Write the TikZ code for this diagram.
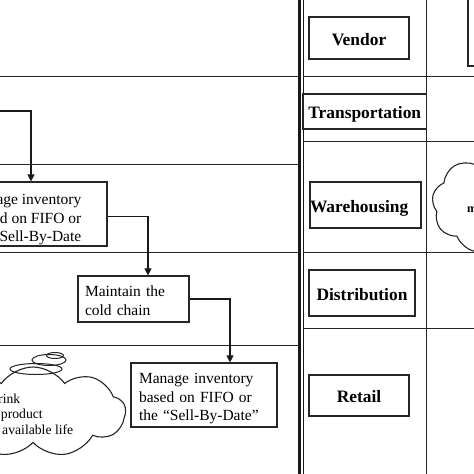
\documentclass[tikz,border=0pt]{standalone}
\usepackage{fontspec}
\setmainfont{Liberation Serif}
\usetikzlibrary{shapes.symbols,shapes.geometric,arrows.meta,calc}
\begin{document}
\begin{tikzpicture}[x=1pt,y=-1pt,
  rule/.style={line width=0.9pt, draw=black!85},
  boxline/.style={draw=black!85, line width=1.2pt},
  procbox/.style={boxline, rectangle, inner ysep=0pt, align=left, font=\fontsize{15.5}{18.5}\selectfont},
  stage/.style={boxline, rectangle, inner sep=0pt, text height=14.5pt, text depth=0pt, font=\fontsize{17.4}{20}\selectfont\bfseries},
  flow/.style={line width=1.1pt, draw=black!90, -{Triangle[length=7pt,width=7pt]}},
  thought/.style={cloud, draw=black!85, line width=1.1pt, cloud puffs=9, cloud puff arc=110, aspect=2.2, inner sep=0pt},
  bubble/.style={draw=black!85, line width=1pt},
  plain/.style={inner sep=0pt, font=\fontsize{15.5}{18.5}\selectfont},
  cloudtext/.style={inner sep=0pt, font=\fontsize{13.7}{15.5}\selectfont}
]
\useasboundingbox (0,0) rectangle (474,474);
\clip (0,0) rectangle (474,474);
\fill[white] (0,0) rectangle (474,474);

% lane rules, left part
\foreach \yy in {76,164,252,345} \draw[rule] (0,\yy) -- (298.5,\yy);
% rules, middle and right columns
\foreach \yy in {76,141,252,328} \draw[rule] (303,\yy) -- (474,\yy);
% double vertical line and column line
\draw[draw=black!90, line width=2.6pt] (299.7,0) -- (299.7,474);
\draw[draw=black!90, line width=1pt] (303,0) -- (303,474);
\draw[rule] (426.5,0) -- (426.5,474);

% stage labels
\node[stage, minimum width=100pt, minimum height=42pt] (vendor) at (359,38) {Vendor};
\node[stage, minimum width=123.5pt, minimum height=35pt] (transp) at (364.75,111.5) {Transportation};
\node[stage, text width=111pt, align=left, minimum height=46pt] (wareh) at (365.5,205) {Warehousing};
\node[stage, minimum width=106pt, minimum height=46pt] (distr) at (362,293) {Distribution};
\node[stage, minimum width=100pt, minimum height=41pt] (retail) at (359,395.5) {Retail};

% partial box, right column
\draw[boxline] (468,-5) rectangle (480,66);

% right cloud
\node[thought, minimum width=126pt, minimum height=100pt] (rcloud) at (495,204) {};
\node[inner sep=0pt, anchor=west, font=\fontsize{12}{14}\selectfont\bfseries] (rtext) at (467,210) {m};

% process boxes
\node[boxline, rectangle, minimum width=146pt, minimum height=64pt] (m1) at (34,214) {};
\node[plain, anchor=east, align=right] (m1text) at (81.5,220) {age inventory\\d on FIFO or\\Sell-By-Date};
\node[procbox, inner xsep=7pt, text width=97pt, minimum height=46pt] (maint) at (133.5,299) {\rule{0pt}{14pt}Maintain the\\cold chain};
\node[procbox, inner xsep=8pt, text width=130pt, minimum height=64pt] (m2) at (204,395) {\rule{0pt}{18pt}Manage inventory\\based on FIFO or\\the “Sell-By-Date”};

% connectors
\coordinate (s0) at (-5,111);
\coordinate (k1) at (31,0);
\coordinate (k2) at (148,0);
\coordinate (k3) at (230,0);
\draw[flow] (s0) -| (k1 |- m1.north);
\draw[flow] ([yshift=-2.5pt]m1.east) -| (k2 |- maint.north);
\draw[flow] (maint.east) -| (k3 |- m2.north);

% left thought cloud
\node[thought, minimum width=185pt, minimum height=90pt] (lcloud) at (33,412) {};
\draw[bubble] (36,369) ellipse [x radius=26pt, y radius=5.5pt];
\draw[bubble] (49,360) ellipse [x radius=17pt, y radius=5.5pt];
\draw[bubble] (55,355.5) ellipse [x radius=8.5pt, y radius=3pt];
\node[cloudtext, anchor=east] (c1) at (20.5,399) {rink};
\node[cloudtext, anchor=east] (c2) at (43,415) {product};
\node[cloudtext, anchor=east] (c3) at (73.5,430) {available life};
\end{tikzpicture}
\end{document}
